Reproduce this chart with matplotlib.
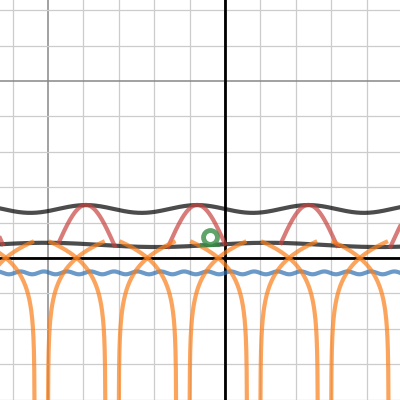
import numpy as np
import matplotlib
matplotlib.use("Agg")
import matplotlib.pyplot as plt

# view window (graph units)
xlim = (-6.356, 4.944)
ylim = (-4.011, 7.288)

# parameters
upper_black = dict(mean=1.385, amp=0.11)
lower_black = dict(mean=0.37, amp=0.06, phase=1.2)
red = dict(mean=0.4, amp=1.1)
blue = dict(mean=-0.42, amp=0.04, period=0.66)
orange_left_asym = [-7, -5, -3, -1, 1, 3, 5]
orange_right_asym = [-7.38, -5.38, -3.38, -1.38, 0.62, 2.62, 4.62, 6.62]
orange_len = 1.55
orange_k = 0.69
orange_end = 0.45
green_pt = (-0.42, 0.59)
green_seg_x = [-0.65, -0.2]

fig = plt.figure(figsize=(4, 4), dpi=100)
ax = fig.add_axes([0, 0, 1, 1])
ax.set_xlim(*xlim); ax.set_ylim(*ylim)
ax.axis('off')

for v in np.arange(-7, 8):
    major = v % 5 == 0
    ax.axvline(v, color='#888' if major else '#ccc', lw=1.1 if major else 0.9, zorder=0)
for v in np.arange(-5, 9):
    major = v % 5 == 0
    ax.axhline(v, color='#888' if major else '#ccc', lw=1.1 if major else 0.9, zorder=0)
ax.axvline(0, color='black', lw=2, zorder=1)
ax.axhline(0, color='black', lw=2, zorder=1)

lw = 3.0
x = np.linspace(xlim[0], xlim[1], 3000)
yb = lower_black['mean'] + lower_black['amp'] * np.cos(x - lower_black['phase'])
ax.plot(x, upper_black['mean'] - upper_black['amp'] * np.sin(2 * x), color='black', alpha=0.7, lw=lw, zorder=3)
ax.plot(x, yb, color='black', alpha=0.7, lw=lw, zorder=3)

yr = red['mean'] - red['amp'] * np.sin(2 * x)
yr = np.where(yr >= yb, yr, np.nan)
ax.plot(x, yr, color='#c74440', alpha=0.7, lw=lw, zorder=3)

ax.plot(x, blue['mean'] + blue['amp'] * np.sin(2 * np.pi * x / blue['period']),
        color='#2d70b3', alpha=0.7, lw=lw, zorder=3)

t = np.concatenate([np.geomspace(1e-5, 0.05, 300), np.linspace(0.05, orange_len, 300)])
yo = orange_end + orange_k * np.log(t / orange_len)
for a in orange_left_asym:
    ax.plot(a + t, yo, color='#fa7e19', alpha=0.7, lw=lw, zorder=3)
for b in orange_right_asym:
    ax.plot(b - t, yo, color='#fa7e19', alpha=0.7, lw=lw, zorder=3)

ax.plot(green_seg_x, [0.37, 0.37], color='#388c46', alpha=0.7, lw=lw, zorder=4)
ax.plot([green_pt[0]], [green_pt[1]], 'o', ms=10, mfc='white', mec='#388c46', mew=3.5, alpha=0.8, zorder=5)

fig.savefig('out.png', dpi=100)
